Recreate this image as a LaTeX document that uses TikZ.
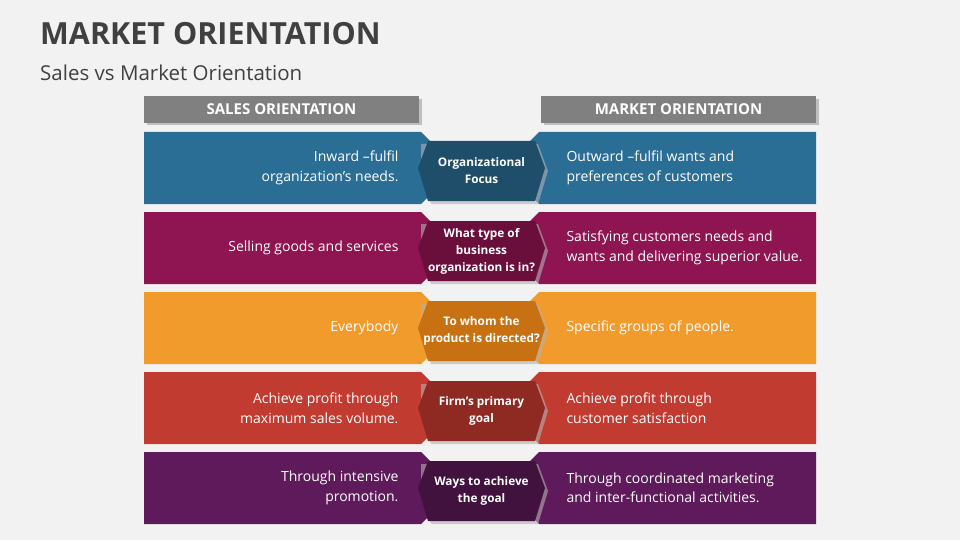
\documentclass[tikz,border=0pt]{standalone}
\usepackage{fontspec}
\setmainfont{Open Sans}
\begin{document}
\begin{tikzpicture}[x=1pt,y=-1pt,
  hd/.style={fill=hdgray,text=white,font=\bfseries\fontsize{15}{18}\selectfont,minimum width=275pt,minimum height=27pt,inner sep=0pt},
  lt/.style={text=white,align=right,anchor=east,font=\fontsize{14}{19.5}\selectfont},
  rt/.style={text=white,align=left,anchor=west,font=\fontsize{14}{19.5}\selectfont},
  ct/.style={text=white,align=center,font=\bfseries\fontsize{11.8}{17}\selectfont}]
\definecolor{hdgray}{HTML}{808080}
\definecolor{bg}{HTML}{F2F2F2}
\fill[bg] (0,0) rectangle (960,540);
\useasboundingbox (0,0) rectangle (960,540);
\node[anchor=west,font=\bfseries\fontsize{30.5}{36}\selectfont,text=black!75,inner sep=0pt] (title) at (40,34) {MARKET ORIENTATION};
\node[anchor=west,font=\fontsize{20.5}{24}\selectfont,text=black!75,inner sep=0pt] (sub) at (40,73) {Sales vs Market Orientation};
\fill[black!25] (147,99) rectangle (422,125);
\fill[black!25] (544,99) rectangle (819,125);
\node[hd] (hl) at (281.5,109.5) {SALES ORIENTATION};
\node[hd] (hr) at (678.5,109.5) {MARKET ORIENTATION};
\foreach \c/\m/\d/\L/\C/\R [count=\i from 0] in {
 2A6E96/1F4E6B/x/{Inward --fulfil\\organization’s needs.}/{Organizational\\Focus}/{Outward --fulfil wants and\\preferences of customers},
 8E1452/6A0E3C/x/{Selling goods and services}/{What type of\\business\\organization is in?}/{Satisfying customers needs and\\wants and delivering superior value.},
 F19B2C/C87112/x/{Everybody}/{To whom the\\product is directed?}/{Specific groups of people.},
 C23B30/8F2A22/x/{Achieve profit through\\maximum sales volume.}/{Firm’s primary\\goal}/{Achieve profit through\\customer satisfaction},
 5E1A5A/42123F/x/{Through intensive\\promotion.}/{Ways to achieve\\the goal}/{Through coordinated marketing\\and inter-functional activities.}}{
 \definecolor{rowm}{HTML}{\c}\definecolor{rowd}{HTML}{\m}
 \pgfmathsetmacro{\y}{168+80*\i}
 \fill[rowm] (144,\y-36) -- (421,\y-36) -- (457,\y) -- (421,\y+36) -- (144,\y+36) -- cycle;
 \fill[rowm] (816,\y-36) -- (539,\y-36) -- (503,\y) -- (539,\y+36) -- (816,\y+36) -- cycle;
 \fill[black!30,opacity=0.6] (421,\y-24) -- (538,\y-24) -- (548,\y+3) -- (538,\y+36) -- (431,\y+36) -- (421,\y+3) -- cycle;
 \fill[rowd] (428,\y-27) -- (535,\y-27) -- (545,\y) -- (535,\y+33) -- (428,\y+33) -- (418,\y) -- cycle;
 \node[lt] (l\i) at (402,\y) {\L};
 \node[ct] (c\i) at (481.5,\y+3) {\C};
 \node[rt] (r\i) at (563,\y) {\R};
}
\end{tikzpicture}
\end{document}
